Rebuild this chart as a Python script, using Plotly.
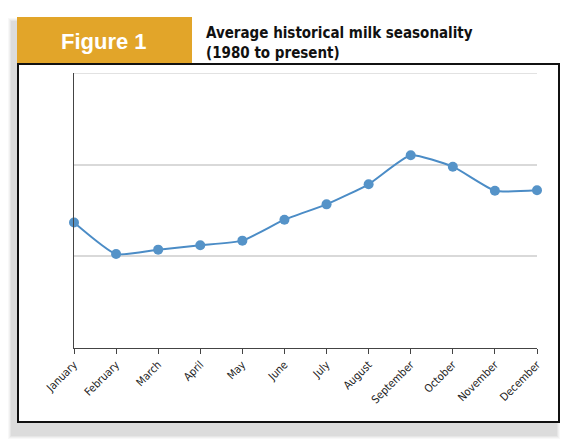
import plotly.graph_objects as go

months = ["January", "February", "March", "April", "May", "June", "July",
          "August", "September", "October", "November", "December"]
seasonality = [1.37, 1.025, 1.073, 1.12, 1.171, 1.40, 1.567, 1.786, 2.102, 1.978, 1.716, 1.72]
grid_levels = [0, 1, 2, 3]

W, H = 575, 447

def px(x):
    return x / W

def py(y):
    return 1 - y / H

NARROW = "Liberation Sans Narrow, Arial Narrow, DejaVu Sans Condensed, Liberation Sans"

fig = go.Figure()
fig.add_trace(go.Scatter(
    x=list(range(len(months))), y=seasonality,
    mode="lines+markers",
    line=dict(color="#4b8cc6", width=2, shape="spline", smoothing=0.5),
    marker=dict(color="#5593c8", size=10),
    cliponaxis=False,
    hoverinfo="skip",
))

shapes = []
# shadow (layered soft rects)
for i, op in enumerate([0.07, 0.08, 0.10, 0.12]):
    d = 4 - i
    shapes.append(dict(type="rect", xref="paper", yref="paper", layer="below",
                       x0=px(12 - d), x1=px(556 + d), y0=py(435 + d), y1=py(22 - d),
                       fillcolor="rgba(150,150,150,%.2f)" % op, line=dict(width=0)))
# white panel with black border
shapes.append(dict(type="rect", xref="paper", yref="paper", layer="below",
                   x0=px(18), x1=px(559), y0=py(422), y1=py(64),
                   fillcolor="white", line=dict(color="#111", width=2)))
# gold header box
shapes.append(dict(type="rect", xref="paper", yref="paper", layer="below",
                   x0=px(17), x1=px(192), y0=py(63), y1=py(17),
                   fillcolor="#e2a529", line=dict(width=0)))
# white strip to right of header (cover shadow)
shapes.append(dict(type="rect", xref="paper", yref="paper", layer="below",
                   x0=px(192), x1=px(575), y0=py(63), y1=py(0),
                   fillcolor="white", line=dict(width=0)))
# top gridline (plotly omits the gridline at the range edge)
shapes.append(dict(type="line", xref="x", yref="y", layer="below",
                   x0=0, x1=len(months) - 1, y0=grid_levels[-1], y1=grid_levels[-1],
                   line=dict(color="#d9d9d9", width=1.5)))

annotations = [
    dict(text="<b>Figure 1</b>", xref="paper", yref="paper", x=px(104), y=py(42),
         xanchor="center", yanchor="middle", showarrow=False,
         font=dict(family="Liberation Sans, Arial", size=22, color="white")),
    dict(text="<b>Average historical milk seasonality<br>(1980 to present)</b>",
         xref="paper", yref="paper", x=px(204), y=py(22), xanchor="left", yanchor="top",
         align="left", showarrow=False,
         font=dict(family=NARROW, size=15, color="#111")),
]

fig.update_layout(
    width=W, height=H, autosize=False,
    margin=dict(l=0, r=0, t=0, b=0, pad=0, autoexpand=False),
    paper_bgcolor="white", plot_bgcolor="rgba(0,0,0,0)",
    showlegend=False,
    shapes=shapes, annotations=annotations,
    xaxis=dict(domain=[px(74), px(537)], range=[0, len(months) - 1],
               tickvals=list(range(len(months))), ticktext=months,
               tickangle=-45, showgrid=False, zeroline=False, automargin=False,
               showline=True, linecolor="#444", linewidth=1,
               ticks="outside", ticklen=5, tickcolor="#444",
               tickfont=dict(family=NARROW, size=11, color="#222")),
    yaxis=dict(domain=[py(348), py(73)], range=[0, 3], automargin=False,
               tickvals=grid_levels, showticklabels=False,
               showgrid=True, gridcolor="#d9d9d9", gridwidth=1.5,
               zeroline=False, showline=True, linecolor="#444", linewidth=1, ticks=""),
)

fig.write_html("out.html")
